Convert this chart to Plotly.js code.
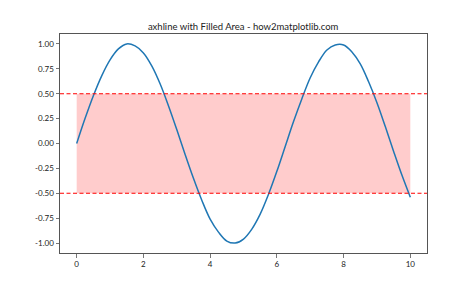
<!DOCTYPE html>
<html>
<head>
<meta charset="utf-8">
<script src="https://cdn.plot.ly/plotly-3.0.1.min.js"></script>
<style>html,body{margin:0;padding:0;background:#fff;}#chart{width:474px;height:284px;}</style>
</head>
<body>
<div id="chart"></div>
<script>
// Curve values
const xValues = [0,0.25,0.5,0.75,1,1.25,1.5,1.75,2,2.25,2.5,2.75,3,3.25,3.5,3.75,4,4.25,4.5,4.75,5,5.25,5.5,5.75,6,6.25,6.5,6.75,7,7.25,7.5,7.75,8,8.25,8.5,8.75,9,9.25,9.5,9.75,10];
const yValues = [0.00,0.25,0.48,0.68,0.84,0.95,1.00,0.98,0.91,0.78,0.60,0.38,0.14,-0.11,-0.35,-0.57,-0.76,-0.89,-0.98,-1.00,-0.96,-0.86,-0.71,-0.51,-0.28,-0.03,0.22,0.45,0.66,0.82,0.94,0.99,0.99,0.92,0.80,0.62,0.41,0.17,-0.08,-0.32,-0.54];
// Filled band
const fillX = [0, 10];
const fillLower = [-0.5, -0.5];
const fillUpper = [0.5, 0.5];
// Horizontal lines
const hLines = [0.5, -0.5];
// Tick labels
const xTicks = [0, 2, 4, 6, 8, 10];
const yTicks = [-1.0, -0.75, -0.5, -0.25, 0, 0.25, 0.5, 0.75, 1.0];

const font = {family: 'Lato, "Noto Sans", sans-serif', size: 8, color: '#222'};

const traces = [
  {x: fillX, y: fillLower, mode: 'lines', line: {width: 0}, hoverinfo: 'skip', showlegend: false},
  {x: fillX, y: fillUpper, mode: 'lines', line: {width: 0}, fill: 'tonexty', fillcolor: 'rgba(255,0,0,0.2)', showlegend: false},
  {x: xValues, y: yValues, mode: 'lines', line: {color: '#1f77b4', width: 1.5, shape: 'spline'}, showlegend: false}
];

const shapes = hLines.map(v => ({
  type: 'line', xref: 'paper', yref: 'y', x0: 0, x1: 1, y0: v, y1: v,
  line: {color: '#ff0000', width: 1.2, dash: '4px,2.5px'}
}));

const axisCommon = {
  showgrid: false, zeroline: false, showline: true, mirror: true,
  linecolor: '#555', linewidth: 1, ticks: 'outside', ticklen: 3.5, tickwidth: 0.8, tickcolor: '#555',
  tickfont: font
};

const layout = {
  width: 474, height: 284,
  margin: {l: 60, r: 47, t: 34, b: 31},
  paper_bgcolor: '#fff', plot_bgcolor: '#fff',
  title: {text: 'axhline with Filled Area - how2matplotlib.com', font: {family: font.family, size: 9.5, color: '#222'}, x: 0.513, xanchor: 'center', y: 0.905, yref: 'container', yanchor: 'middle'},
  xaxis: Object.assign({}, axisCommon, {range: [-0.5, 10.5], tickvals: xTicks, ticktext: xTicks.map(String)}),
  yaxis: Object.assign({}, axisCommon, {range: [-1.1, 1.1], tickvals: yTicks, ticktext: yTicks.map(v => v.toFixed(2))}),
  shapes: shapes
};

Plotly.newPlot('chart', traces, layout, {staticPlot: true, displayModeBar: false});
</script>
</body>
</html>
